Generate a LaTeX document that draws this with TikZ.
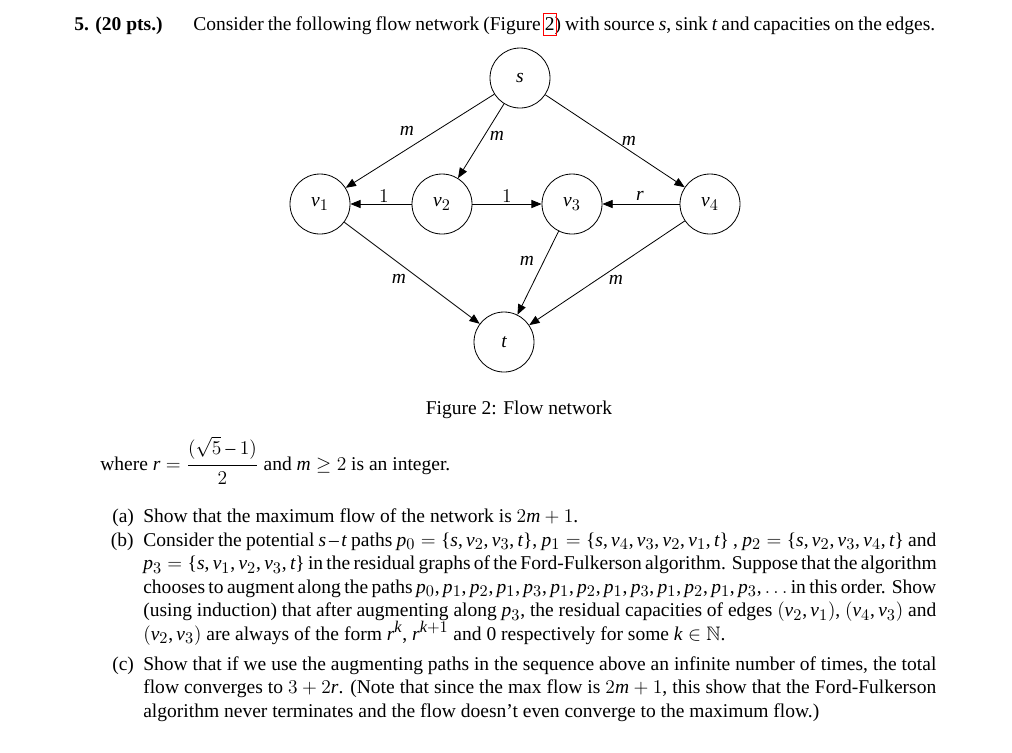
\documentclass[tikz,border=0pt]{standalone}
\usepackage{amsmath,amssymb}
\usepackage{fontspec}
\setmainfont{Liberation Serif}
\usepackage[italic]{mathastext}
\usetikzlibrary{arrows.meta}
\newlength\tw
\setlength\tw{487.7pt}
\newcommand\jline[1]{\makebox[\tw][s]{#1}}
\begin{document}
\begin{tikzpicture}[x=0.615pt,y=-0.615pt,
  every node/.append style={font=\fontsize{12}{14.5}\selectfont},
  vertex/.style={circle,draw,line width=0.5pt,minimum size=36.9pt,inner sep=0pt},
  edge/.style={line width=0.5pt,-{Triangle[length=6.3pt,width=5pt]}},
  lab/.style={inner sep=0pt},
  txt/.style={anchor=base west,inner sep=0pt}]
\fill[white] (0,0) rectangle (1012,752);
\useasboundingbox (0,0) rectangle (1012,752);
% graph
\node[vertex] (s) at (520,78) {$s$};
\node[vertex] (v1) at (320,204) {$v_1$};
\node[vertex] (v2) at (442,204) {$v_2$};
\node[vertex] (v3) at (572,204) {$v_3$};
\node[vertex] (v4) at (710,204) {$v_4$};
\node[vertex] (t) at (504,342) {$t$};
\draw[edge] (s) -- (v1);
\draw[edge] (s) -- (v2);
\draw[edge] (s) -- (v4);
\draw[edge] (v2) -- (v1);
\draw[edge] (v2) -- (v3);
\draw[edge] (v4) -- (v3);
\draw[edge] (v1) -- (t);
\draw[edge] (v3) -- (t);
\draw[edge] (v4) -- (t);
\node[lab] (lsv1) at (407,131) {$m$};
\node[lab] (lsv2) at (497,136) {$m$};
\node[lab] (lsv4) at (629,141) {$m$};
\node[lab] (lv2v1) at (384,196) {$1$};
\node[lab] (lv2v3) at (507,196) {$1$};
\node[lab] (lv4v3) at (640,196) {$r$};
\node[lab] (lv3t) at (527,261) {$m$};
\node[lab] (lv1t) at (399,279) {$m$};
\node[lab] (lv4t) at (616,280) {$m$};
\node[anchor=base,inner sep=0pt] (cap) at (519,414) {Figure 2: Flow network};
% text
\node[txt] (num) at (74,30) {\textbf{5. (20 pts.)}};
\node[txt] (intro) at (193,30) {\hbox to 456.3pt{Consider the following flow network (Figure~2) with source $s$, sink $t$ and capacities on the edges.}};
\draw[red,line width=0.5pt] (543,13) rectangle (556.5,35);
\node[txt] (where) at (100,470) {where $r=\dfrac{\rule[-5pt]{0pt}{5pt}(\sqrt{5}-1)}{\rule{0pt}{10.5pt}2}$ and $m\geq 2$ is an integer.};
\node[txt] (ia) at (112,522) {(a)};
\node[txt] (ta) at (143,522) {Show that the maximum flow of the network is $2m+1$.};
\node[txt] (ib) at (110.5,546) {(b)};
\node[txt] (tb1) at (143,546) {\jline{Consider the potential $s-t$ paths $p_0=\{s,v_2,v_3,t\}$, $p_1=\{s,v_4,v_3,v_2,v_1,t\}$ , $p_2=\{s,v_2,v_3,v_4,t\}$ and}};
\node[txt] (tb2) at (143,569.5) {\jline{$p_3=\{s,v_1,v_2,v_3,t\}$ in the residual graphs of the Ford-Fulkerson algorithm. Suppose that the algorithm}};
\node[txt] (tb3) at (143,593) {\jline{chooses to augment along the paths $p_0,p_1,p_2,p_1,p_3,p_1,p_2,p_1,p_3,p_1,p_2,p_1,p_3,\ldots$ in this order. Show}};
\node[txt] (tb4) at (143,616.5) {\jline{(using induction) that after augmenting along $p_3$, the residual capacities of edges $(v_2,v_1)$, $(v_4,v_3)$ and}};
\node[txt] (tb5) at (143,640) {$(v_2,v_3)$ are always of the form $r^k$, $r^{k+1}$ and 0 respectively for some $k\in\mathbb{N}$.};
\node[txt] (ic) at (112,670) {(c)};
\node[txt] (tc1) at (143,670) {\jline{Show that if we use the augmenting paths in the sequence above an infinite number of times, the total}};
\node[txt] (tc2) at (143,693.5) {\jline{flow converges to $3+2r$. (Note that since the max flow is $2m+1$, this show that the Ford-Fulkerson}};
\node[txt] (tc3) at (143,717) {algorithm never terminates and the flow doesn't even converge to the maximum flow.)};
\end{tikzpicture}
\end{document}
